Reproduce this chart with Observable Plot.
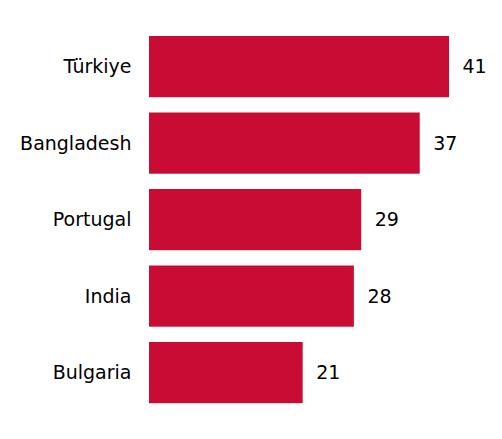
<!DOCTYPE html>
<html><head><meta charset="utf-8">
<script src="https://cdn.jsdelivr.net/npm/d3@7"></script>
<script src="https://cdn.jsdelivr.net/npm/@observablehq/plot@0.6"></script>
<style>body{margin:0;background:#fff;font-family:"DejaVu Sans",sans-serif;}</style>
</head><body><div id="chart"></div>
<script>
const countries = ["Türkiye","Bangladesh","Portugal","India","Bulgaria"];
const values = [41,37,29,28,21];
const data = countries.map((c,i)=>({country:c,value:values[i]}));
const chart = Plot.plot({
  width:502, height:439,
  marginLeft:149, marginRight:53, marginTop:20.7, marginBottom:20.5,
  style:{fontFamily:"DejaVu Sans, sans-serif", fontSize:"19px", color:"#000", background:"#fff"},
  x:{domain:[0,41], axis:null},
  y:{domain:countries, padding:0.2, round:false, axis:null},
  marks:[
    Plot.axisY({label:null, tickSize:0, tickPadding:18, fontSize:19}),
    Plot.barX(data,{x:"value", y:"country", fill:"#C90C34"}),
    Plot.text(data,{x:"value", y:"country", text:d=>String(d.value), textAnchor:"start", dx:13, fontSize:19, fill:"#000"})
  ]
});
document.getElementById("chart").appendChild(chart);
</script></body></html>
